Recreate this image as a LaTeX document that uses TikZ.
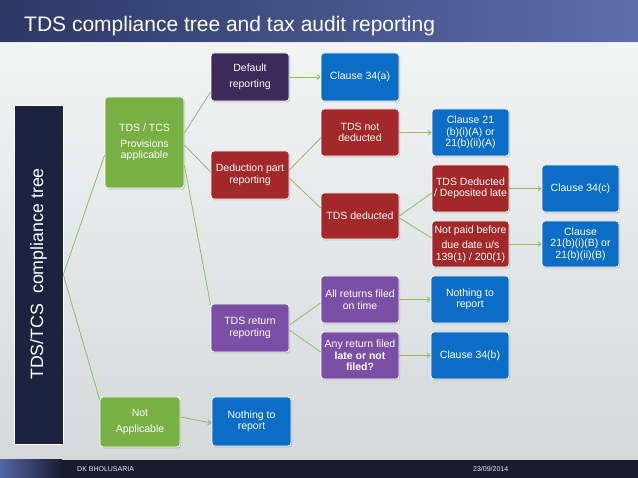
\documentclass[tikz,border=0pt]{standalone}
\usepackage{fontspec}
\setmainfont{Liberation Sans}
\usetikzlibrary{arrows.meta,shadows}
\definecolor{navy}{HTML}{1C2340}
\definecolor{grn}{HTML}{78B043}
\definecolor{dpur}{HTML}{3B2A5A}
\definecolor{rd}{HTML}{A3282A}
\definecolor{pur}{HTML}{7B4FA6}
\definecolor{blu}{HTML}{0B6DC6}
\definecolor{conn}{HTML}{8CBD68}
\definecolor{barL}{HTML}{2C3866}
\definecolor{barR}{HTML}{5D6DAD}
\definecolor{foot}{HTML}{171C2F}
\definecolor{footL}{HTML}{5566A8}
\definecolor{bgT}{HTML}{F2F4F4}
\definecolor{bgB}{HTML}{D5D9DA}
\tikzset{
  box/.style={rounded corners=3pt, draw=white, line width=0.8pt, text=white,
    align=center, inner sep=0pt, minimum width=78pt, minimum height=47pt,
    font=\fontsize{10.5}{11.5}\selectfont,
    drop shadow={shadow xshift=1pt, shadow yshift=-1.5pt, opacity=0.35}},
  gbox/.style={box, fill=grn},
  dbox/.style={box, fill=dpur},
  rbox/.style={box, fill=rd},
  pbox/.style={box, fill=pur},
  bbox/.style={box, fill=blu},
  link/.style={draw=conn, line width=0.8pt},
  arr/.style={link, -{Straight Barb[length=3pt,width=5pt]}},
}
\begin{document}
\begin{tikzpicture}[x=1pt,y=-1pt]
\useasboundingbox (0,0) rectangle (638,478);
% background
\shade[top color=bgT, bottom color=bgB] (0,43) rectangle (638,460);
\shade[left color=barL, right color=barR] (0,0) rectangle (638,42);
\fill[white!85!barR] (0,42) rectangle (638,43.5);
\fill[foot] (0,460) rectangle (638,478);
\shade[left color=footL, right color=foot] (0,460) rectangle (62,478);
\node[anchor=base west, text=white, inner sep=0pt, font=\fontsize{21}{24}\selectfont] (title) at (24,32) {TDS compliance tree and tax audit reporting};
\node[anchor=west, text=white!85!gray, inner sep=0pt, font=\fontsize{7}{8}\selectfont] (author) at (77,469) {DK BHOLUSARIA};
\node[anchor=west, text=white!85!gray, inner sep=0pt, font=\fontsize{7}{8}\selectfont] (date) at (473,469) {23/09/2014};

% left box
\node[fill=navy, draw=white, line width=0.6pt, minimum width=49pt, minimum height=339pt, inner sep=0pt] (left) at (38.5,274.5) {};
\node[rotate=90, text=white, font=\fontsize{17.8}{20}\selectfont] (lefttext) at (38.5,274) {TDS/TCS\ \ compliance tree};

% nodes
\node[gbox, minimum width=79pt, minimum height=91pt] (prov) at (144.5,142.5) {TDS / TCS\\[4pt]Provisions\\applicable};
\node[gbox, minimum width=80pt, minimum height=50pt] (notapp) at (140,422) {Not\\[5pt]Applicable};
\node[dbox, minimum height=48pt] (default) at (250,77) {Default\\[4pt]reporting};
\node[bbox, minimum height=48pt] (c34a) at (360,77) {Clause 34(a)};
\node[rbox] (tdsnot) at (360,132.5) {TDS not\\deducted};
\node[rbox, minimum height=48pt] (dedpart) at (250,175) {Deduction part\\reporting};
\node[rbox, minimum height=46pt] (tdsded) at (360,216) {TDS deducted};
\node[bbox, minimum width=77pt] (c21a) at (470.5,132.5) {Clause 21\\(b)(i)(A) or\\21(b)(ii)(A)};
\node[rbox, minimum width=77pt] (late) at (470.5,188.5) {TDS Deducted\\/ Deposited late};
\node[rbox, minimum width=77pt, minimum height=46pt] (notpaid) at (470.5,244) {Not paid before\\[4pt]due date u/s\\139(1) / 200(1)};
\node[bbox, minimum width=77pt] (c34c) at (580.5,188.5) {Clause 34(c)};
\node[bbox, minimum width=77pt, minimum height=46pt] (c21b) at (580.5,244) {Clause\\21(b)(i)(B) or\\21(b)(ii)(B)};
\node[pbox, minimum height=48pt] (tdsret) at (250,328) {TDS return\\reporting};
\node[pbox] (allret) at (360,299.5) {All returns filed\\on time};
\node[pbox] (anyret) at (360,355.5) {Any return filed\\\textbf{late or not}\\\textbf{filed?}};
\node[bbox] (nothing1) at (470,299.5) {Nothing to\\report};
\node[bbox] (c34b) at (470,355.5) {Clause 34(b)};
\node[bbox, minimum width=79pt, minimum height=49pt] (nothing2) at (251.5,421.5) {Nothing to\\report};

% connectors
\draw[link] (left.east) -- ([yshift=-12.5pt]prov.west);
\draw[link] (left.east) -- ([yshift=-3pt]notapp.north west);
\draw[link] ([yshift=9.5pt]prov.east) -- ([yshift=-15pt]default.west);
\draw[link] ([yshift=-2.5pt]prov.east) -- ([yshift=3pt]dedpart.west);
\draw[link] ([yshift=-22.5pt]prov.east) -- ([yshift=-1.5pt]tdsret.north west);
\draw[arr] ([yshift=5pt]notapp.east) -- ([yshift=-1.5pt]nothing2.west);
\draw[arr] (default.east) -- (c34a.west);
\draw[link] ([yshift=5pt]dedpart.east) -- ([yshift=-5.5pt]tdsnot.west);
\draw[link] ([yshift=-3pt]dedpart.east) -- ([yshift=8pt]tdsded.west);
\draw[arr] (tdsnot.east) -- (c21a.west);
\draw[link] (tdsded.east) -- ([yshift=-4.5pt]late.west);
\draw[link] ([yshift=-2pt]tdsded.east) -- ([yshift=6pt]notpaid.west);
\draw[arr] (late.east) -- (c34c.west);
\draw[arr] (notpaid.east) -- (c21b.west);
\draw[link] ([yshift=3pt]tdsret.east) -- ([yshift=-3.5pt]allret.west);
\draw[link] ([yshift=-2pt]tdsret.east) -- ([yshift=3.5pt]anyret.west);
\draw[arr] (allret.east) -- (nothing1.west);
\draw[arr] (anyret.east) -- (c34b.west);
\end{tikzpicture}
\end{document}
